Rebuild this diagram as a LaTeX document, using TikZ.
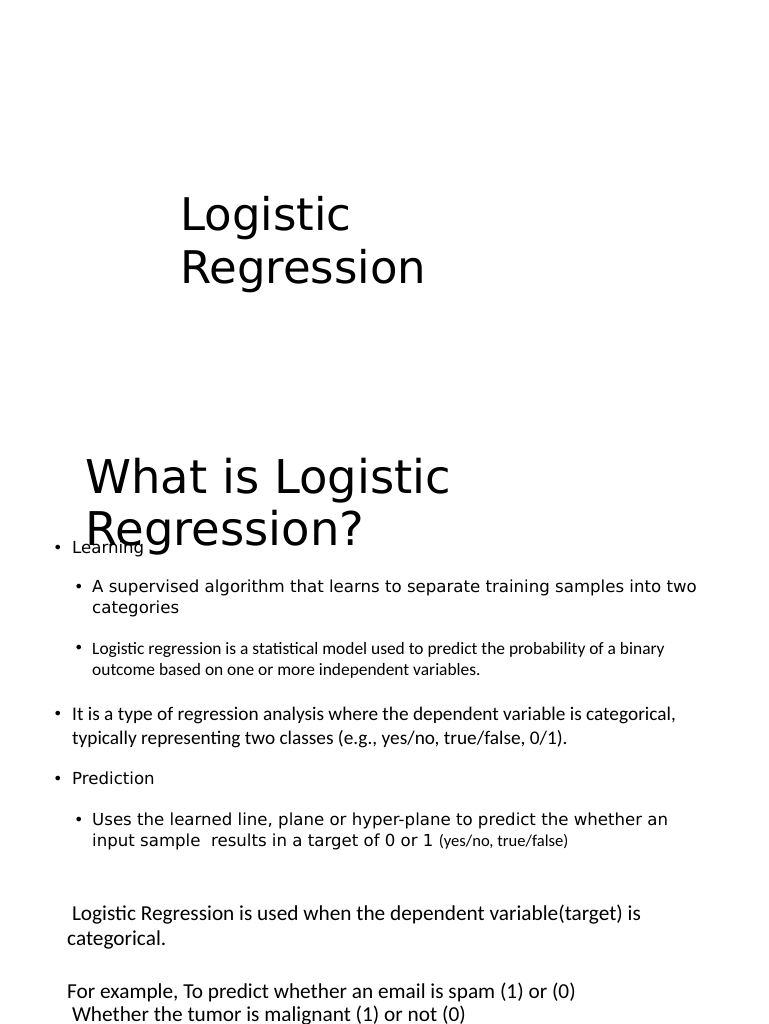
\documentclass[tikz,border=0pt]{standalone}
\usepackage{fontspec}
\setmainfont{DejaVu Sans}
\newfontfamily\carl{Carlito}
\begin{document}
\begin{tikzpicture}[x=1pt,y=-1pt,
  t/.style={anchor=base west,inner sep=0pt},
  dv/.style={t,font=\fontsize{16.6}{20}\selectfont},
  cb/.style={t,font=\carl\fontsize{17.4}{20}\selectfont},
  cbl/.style={t,font=\carl\fontsize{19.3}{25}\selectfont},
  cbx/.style={t,font=\carl\fontsize{21.3}{25}\selectfont},
  bul/.style={t,font=\fontsize{16}{16}\selectfont}]
\useasboundingbox (0,0) rectangle (768,1024);
\node[t,font=\fontsize{45}{51}\selectfont] (t1) at (180,231) {Logistic};
\node[t,font=\fontsize{45}{51}\selectfont] (t2) at (180,283) {Regression};
\node[t,font=\fontsize{46.5}{52}\selectfont] (h1) at (85,493) {What is Logistic};
\node[t,font=\fontsize{46.5}{52}\selectfont] (h2) at (85,545) {Regression?};
\node[bul] (b1) at (53,553) {•};
\node[dv] (l1) at (72,553) {Learning};
\node[bul] (b2) at (74,592) {•};
\node[dv] (l2) at (92,592) {A supervised algorithm that learns to separate training samples into two};
\node[dv] (l3) at (92,613) {categories};
\node[bul] (b3) at (74,653) {•};
\node[cb] (l4) at (92,654) {Logistic regression is a statistical model used to predict the probability of a binary};
\node[cb] (l5) at (92,675) {outcome based on one or more independent variables.};
\node[bul] (b4) at (53,719) {•};
\node[cbl] (l6) at (72,720) {It is a type of regression analysis where the dependent variable is categorical,};
\node[cbl] (l7) at (72,744) {typically representing two classes (e.g., yes/no, true/false, 0/1).};
\node[bul] (b5) at (53,784) {•};
\node[dv] (l8) at (72,784) {Prediction};
\node[bul] (b6) at (74,825) {•};
\node[dv] (l9) at (92,825) {Uses the learned line, plane or hyper-plane to predict the whether an};
\node[dv] (l10) at (92,846) {input sample\ \ results in a target of 0 or 1 {\carl (yes/no, true/false)}};
\node[cbx] (p1) at (67,920) {\ Logistic Regression is used when the dependent variable(target) is};
\node[cbx] (p2) at (67,945) {categorical.};
\node[cbx] (p3) at (67,998) {For example, To predict whether an email is spam (1) or (0)};
\node[cbx] (p4) at (67,1021) {\ Whether the tumor is malignant (1) or not (0)};
\end{tikzpicture}
\end{document}
